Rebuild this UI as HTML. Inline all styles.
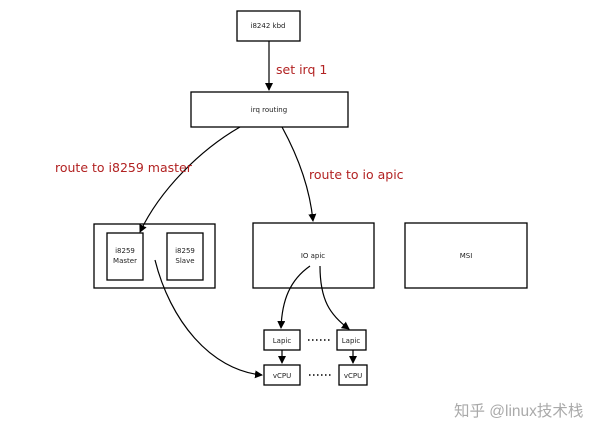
<!DOCTYPE html>
<html><head><style>
body{margin:0;background:#fff;width:600px;height:437px;overflow:hidden}
</style></head><body>
<svg width="600" height="437" xmlns="http://www.w3.org/2000/svg" font-family="'DejaVu Sans','Liberation Sans',sans-serif">
<defs><marker id="a" markerWidth="8" markerHeight="8" refX="7" refY="4" orient="auto" markerUnits="userSpaceOnUse"><path d="M0,0 L8,4 L0,8 z" fill="#000"/></marker></defs>
<g fill="#fff" stroke="#000" stroke-width="1.3">
<rect x="237" y="11" width="63" height="30"/>
<rect x="191" y="92" width="157" height="35"/>
<rect x="94" y="224" width="121" height="64"/>
<rect x="107" y="233" width="36" height="47"/>
<rect x="167" y="233" width="36" height="47"/>
<rect x="253" y="223" width="121" height="65"/>
<rect x="405" y="223" width="122" height="65"/>
<rect x="264" y="330" width="36" height="20"/>
<rect x="337" y="330" width="29" height="20"/>
<rect x="264" y="365" width="36" height="20"/>
<rect x="339" y="365" width="28" height="20"/>
</g>
<g fill="none" stroke="#000" stroke-width="1.2" marker-end="url(#a)">
<path d="M269,41 L269,90"/>
<path d="M240,127 C200,150 160,190 140,232"/>
<path d="M282,127 C300,160 310,190 313,221"/>
<path d="M155,260 C170,320 210,370 262,375"/>
<path d="M310,266 C290,280 282,300 281,328"/>
<path d="M320,266 C320,300 330,315 349,329"/>
<path d="M282,350 L282,363"/>
<path d="M353,350 L353,363"/>
</g>
<g stroke="#000" stroke-width="1.5" stroke-dasharray="1.5,2.5"><line x1="308" y1="340" x2="331" y2="340"/><line x1="309" y1="375" x2="332" y2="375"/></g>
<g font-size="7" fill="#222" text-anchor="middle">
<text x="268" y="28">i8242 kbd</text>
<text x="269" y="112">irq routing</text>
<text x="125" y="253">i8259</text><text x="125" y="263">Master</text>
<text x="185" y="253">i8259</text><text x="185" y="263">Slave</text>
<text x="313" y="258">IO apic</text>
<text x="466" y="258">MSI</text>
<text x="282" y="343">Lapic</text>
<text x="351" y="343">Lapic</text>
<text x="282" y="378">vCPU</text>
<text x="353" y="378">vCPU</text>
</g>
<g font-size="12.5" fill="#b22222">
<text x="276" y="74">set irq 1</text>
<text x="55" y="172">route to i8259 master</text>
<text x="309" y="179">route to io apic</text>
</g>
<text x="454" y="416" font-size="15.5" fill="#aaa" font-family="'Liberation Sans','Noto Sans CJK SC',sans-serif">知乎 @linux技术栈</text>
</svg>
</body></html>
